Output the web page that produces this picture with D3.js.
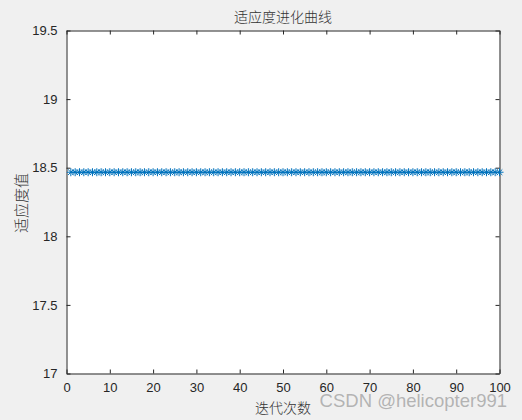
<!DOCTYPE html>
<html>
<head>
<meta charset="utf-8">
<script src="https://cdn.jsdelivr.net/npm/d3@7"></script>
<style>
  body { margin: 0; background: #f0f0f0; }
  svg { display: block; }
</style>
</head>
<body>
<div id="chart"></div>
<script>
// chart texts
const titleText = "适应度进化曲线";
const xLabel = "迭代次数";
const yLabel = "适应度值";
const watermark = "CSDN @helicopter991";

// ticks
const xTicks = [0, 10, 20, 30, 40, 50, 60, 70, 80, 90, 100];
const yTicks = [17, 17.5, 18, 18.5, 19, 19.5];

// iterations and best fitness per iteration (flat)
const iterations = [
  1, 2, 3, 4, 5, 6, 7, 8, 9, 10, 11, 12, 13, 14, 15, 16, 17, 18, 19, 20,
  21, 22, 23, 24, 25, 26, 27, 28, 29, 30, 31, 32, 33, 34, 35, 36, 37, 38, 39, 40,
  41, 42, 43, 44, 45, 46, 47, 48, 49, 50, 51, 52, 53, 54, 55, 56, 57, 58, 59, 60,
  61, 62, 63, 64, 65, 66, 67, 68, 69, 70, 71, 72, 73, 74, 75, 76, 77, 78, 79, 80,
  81, 82, 83, 84, 85, 86, 87, 88, 89, 90, 91, 92, 93, 94, 95, 96, 97, 98, 99, 100
];
const fitness = [
  18.467, 18.467, 18.467, 18.467, 18.467, 18.467, 18.467, 18.467, 18.467, 18.467,
  18.467, 18.467, 18.467, 18.467, 18.467, 18.467, 18.467, 18.467, 18.467, 18.467,
  18.467, 18.467, 18.467, 18.467, 18.467, 18.467, 18.467, 18.467, 18.467, 18.467,
  18.467, 18.467, 18.467, 18.467, 18.467, 18.467, 18.467, 18.467, 18.467, 18.467,
  18.467, 18.467, 18.467, 18.467, 18.467, 18.467, 18.467, 18.467, 18.467, 18.467,
  18.467, 18.467, 18.467, 18.467, 18.467, 18.467, 18.467, 18.467, 18.467, 18.467,
  18.467, 18.467, 18.467, 18.467, 18.467, 18.467, 18.467, 18.467, 18.467, 18.467,
  18.467, 18.467, 18.467, 18.467, 18.467, 18.467, 18.467, 18.467, 18.467, 18.467,
  18.467, 18.467, 18.467, 18.467, 18.467, 18.467, 18.467, 18.467, 18.467, 18.467,
  18.467, 18.467, 18.467, 18.467, 18.467, 18.467, 18.467, 18.467, 18.467, 18.467
];

// dimensions
var width = 522, height = 420;
var margin = {left: 66.5, right: 22.5, top: 30.5, bottom: 46.5};
var lineColor = "#0072bd", axisColor = "#262626";
var cjkFont = "'Noto Sans CJK SC', sans-serif";
var numFont = "'Liberation Sans', Arial, sans-serif";

var svg = d3.select("#chart").append("svg")
  .attr("width", width)
  .attr("height", height);

svg.append("rect")
  .attr("width", width).attr("height", height)
  .attr("fill", "#f0f0f0");

var x = d3.scaleLinear().domain([0, 100]).range([margin.left, width - margin.right]);
var y = d3.scaleLinear().domain([17, 19.5]).range([height - margin.bottom, margin.top]);

// white plot area
svg.append("rect")
  .attr("x", x(0)).attr("y", y(19.5))
  .attr("width", x(100) - x(0)).attr("height", y(17) - y(19.5))
  .attr("fill", "white");

// axes, ticks pointing inward (matlab box style)
var tickLen = 4;
function styleAxis(g) {
  g.select(".domain").attr("stroke", axisColor);
  g.selectAll(".tick line").attr("stroke", axisColor);
  g.selectAll(".tick text")
    .attr("fill", axisColor)
    .attr("font-family", numFont)
    .attr("font-size", "13px");
}

svg.append("g")
  .attr("transform", "translate(0," + y(17) + ")")
  .call(d3.axisBottom(x).tickValues(xTicks).tickSizeInner(-tickLen).tickSizeOuter(0).tickPadding(9))
  .call(styleAxis);

svg.append("g")
  .attr("transform", "translate(0," + y(19.5) + ")")
  .call(d3.axisTop(x).tickValues(xTicks).tickSizeInner(-tickLen).tickSizeOuter(0).tickFormat(""))
  .call(styleAxis);

svg.append("g")
  .attr("transform", "translate(" + x(0) + ",0)")
  .call(d3.axisLeft(y).tickValues(yTicks).tickSizeInner(-tickLen).tickSizeOuter(0).tickPadding(9)
    .tickFormat(d3.format("")))
  .call(styleAxis);

svg.append("g")
  .attr("transform", "translate(" + x(100) + ",0)")
  .call(d3.axisRight(y).tickValues(yTicks).tickSizeInner(-tickLen).tickSizeOuter(0).tickFormat(""))
  .call(styleAxis);

// line
var data = iterations.map((d, i) => ({it: d, val: fitness[i]}));

svg.append("path")
  .datum(data)
  .attr("fill", "none")
  .attr("stroke", lineColor)
  .attr("stroke-width", 1)
  .attr("d", d3.line().x(d => x(d.it)).y(d => y(d.val)));

// asterisk markers
var r = 4;
var star = "M" + (-r) + ",0H" + r + "M0," + (-r) + "V" + r +
  "M" + (-r * 0.7) + "," + (-r * 0.7) + "L" + (r * 0.7) + "," + (r * 0.7) +
  "M" + (-r * 0.7) + "," + (r * 0.7) + "L" + (r * 0.7) + "," + (-r * 0.7);

svg.append("g").selectAll("path")
  .data(data)
  .enter()
  .append("path")
    .attr("transform", d => "translate(" + x(d.it) + "," + y(d.val) + ")")
    .attr("d", star)
    .attr("fill", "none")
    .attr("stroke", lineColor)
    .attr("stroke-width", 1);

// texts
svg.append("text")
  .attr("x", (x(0) + x(100)) / 2)
  .attr("y", 22)
  .attr("text-anchor", "middle")
  .attr("font-family", cjkFont)
  .attr("font-size", "14px")
  .attr("font-weight", 300)
  .attr("fill", "#333")
  .text(titleText);

svg.append("text")
  .attr("x", (x(0) + x(100)) / 2)
  .attr("y", 413)
  .attr("text-anchor", "middle")
  .attr("font-family", cjkFont)
  .attr("font-size", "14px")
  .attr("font-weight", 300)
  .attr("fill", "#333")
  .text(xLabel);

svg.append("text")
  .attr("transform", "translate(27," + 203 + ") rotate(-90)")
  .attr("text-anchor", "middle")
  .attr("font-family", cjkFont)
  .attr("font-size", "15px")
  .attr("font-weight", 300)
  .attr("fill", "#333")
  .text(yLabel);

// watermark
svg.append("text")
  .attr("x", 507)
  .attr("y", 407)
  .attr("text-anchor", "end")
  .attr("font-family", numFont)
  .attr("font-size", "18.5px")
  .attr("fill", "#a8a8a8")
  .attr("fill-opacity", 0.85)
  .text(watermark);
</script>
</body>
</html>
